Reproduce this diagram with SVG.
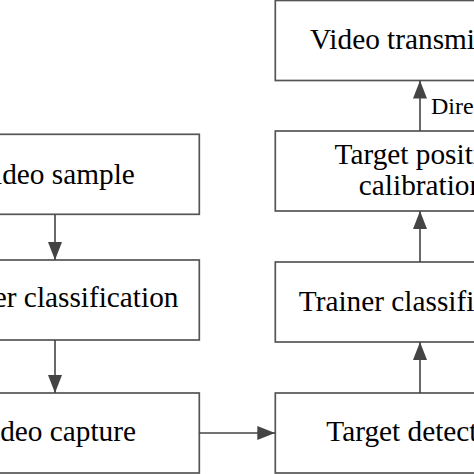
<svg xmlns="http://www.w3.org/2000/svg" width="474" height="474" viewBox="0 0 474 474">
<defs>
<style>
.box{fill:#fff;stroke:#555;stroke-width:1.7}
.t{font-family:"Liberation Serif","Times New Roman",serif;font-size:29.3px;fill:#000;text-anchor:middle}
.lbl{font-family:"Liberation Serif","Times New Roman",serif;font-size:24px;fill:#000}
.c{stroke:#444;stroke-width:1.6;fill:none;marker-end:url(#ah)}
</style>
<marker id="ah" markerUnits="userSpaceOnUse" markerWidth="18" markerHeight="14" refX="18" refY="7" orient="auto">
<path d="M0,0 L18,7 L0,14 Z" fill="#444"/>
</marker>
</defs>
<rect width="474" height="474" fill="#fff"/>
<g id="video-sample"><rect class="box" x="-90" y="134.3" width="289.3" height="80"/><text class="t" x="54.7" y="183.5">Video sample</text></g>
<g id="trainer-classification-left"><rect class="box" x="-90" y="260" width="289.3" height="80"/><text class="t" x="54.9" y="307">Trainer classification</text></g>
<g id="video-capture"><rect class="box" x="-90" y="393" width="289.3" height="80"/><text class="t" x="54.3" y="440.5">Video capture</text></g>
<g id="video-transmission"><rect class="box" x="275.3" y="0.5" width="289.3" height="80"/><text class="t" x="422.6" y="49">Video transmission</text></g>
<g id="target-position-calibration"><rect class="box" x="275.3" y="131" width="289.3" height="80"/><text class="t" x="422.4" y="163.5">Target position</text><text class="t" x="421.5" y="194.5">calibration</text></g>
<g id="trainer-classification-right"><rect class="box" x="275.3" y="262" width="289.3" height="80"/><text class="t" x="422.4" y="310.5">Trainer classification</text></g>
<g id="target-detection"><rect class="box" x="275.3" y="393" width="289.3" height="80"/><text class="t" x="420.6" y="440.5">Target detection</text></g>
<g id="connectors">
<line class="c" x1="55" y1="214.3" x2="55" y2="260"/>
<line class="c" x1="55" y1="340" x2="55" y2="393"/>
<line class="c" x1="199.3" y1="433" x2="275.3" y2="433"/>
<line class="c" x1="420" y1="393" x2="420" y2="342"/>
<line class="c" x1="420" y1="262" x2="420" y2="211"/>
<line class="c" x1="420" y1="131" x2="420" y2="80.5"/>
<text class="lbl" x="431" y="113.5">Dire</text>
</g>
</svg>
